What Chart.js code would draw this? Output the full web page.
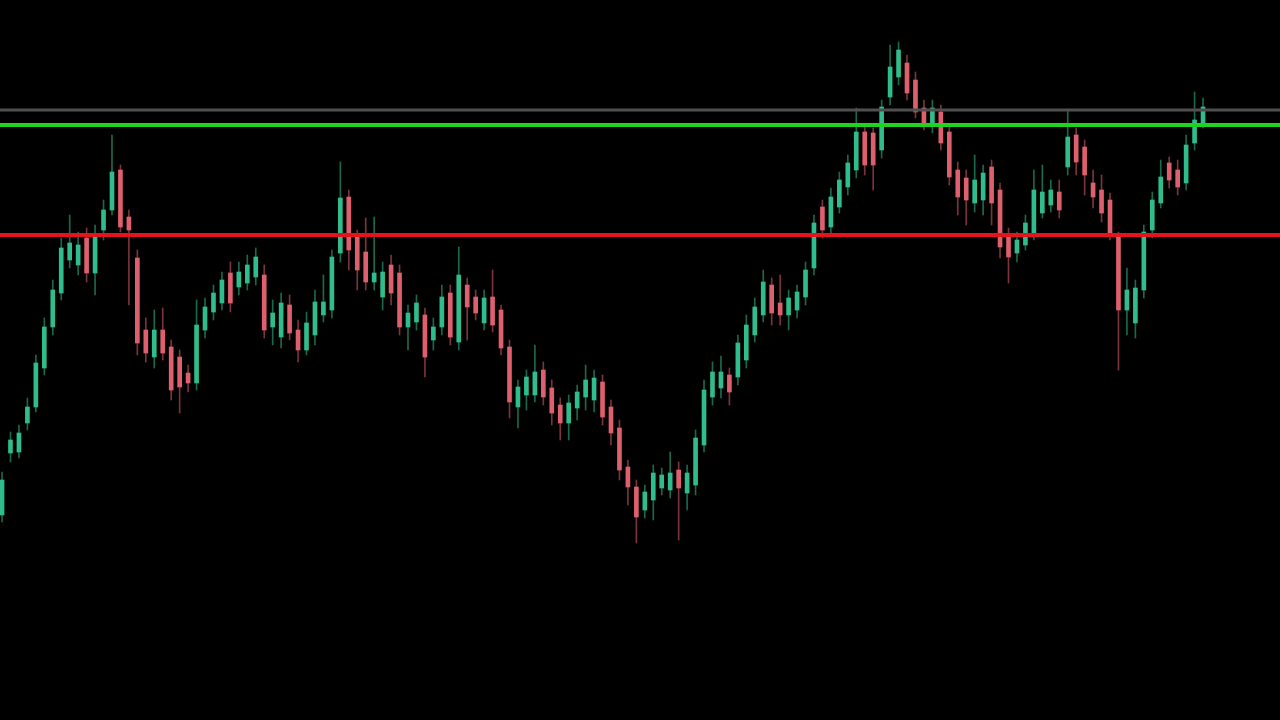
<!DOCTYPE html>
<html>
<head>
<meta charset="utf-8">
<script src="https://cdn.jsdelivr.net/npm/chart.js@4.4.1/dist/chart.umd.min.js"></script>
<style>
  html, body { margin: 0; padding: 0; background: #000; }
  #wrap { width: 1280px; height: 720px; }
</style>
</head>
<body>
<div id="wrap"><canvas id="candles" width="1280" height="720"></canvas></div>
<script>
// OHLC values, one entry per candle
const opens = [205,267,268,297,313,352,393,427,460,455,482,447,490,510,550,503,462,390,363,390,
  373,363,347,337,390,408,417,447,433,437,443,445,393,383,415,390,370,385,405,410,
  467,523,483,468,438,423,455,447,393,398,405,380,393,427,378,435,423,397,423,410,
  373,313,325,325,350,332,315,297,312,323,320,338,313,292,253,233,210,220,232,230,
  250,227,235,275,323,332,345,343,360,385,405,435,417,405,410,423,452,513,493,513,
  533,550,588,587,570,623,643,657,640,612,595,608,588,550,542,517,520,553,530,483,
  467,475,487,507,515,528,553,585,573,537,530,520,483,410,397,430,490,517,557,550,
  537,577,597];
const highs = [248,288,295,322,365,402,440,482,505,488,492,495,520,585,555,510,470,402,410,412,
  380,370,355,420,422,435,448,458,458,465,472,455,420,427,425,400,408,430,445,470,
  558,530,490,502,503,458,465,455,415,425,412,402,435,435,473,442,430,430,450,415,
  380,340,350,375,358,340,322,325,335,355,350,345,320,300,260,240,235,255,252,268,
  258,255,290,340,358,364,352,385,405,422,450,442,445,430,435,458,505,520,532,548,
  565,612,595,592,620,675,678,665,648,620,620,615,595,558,550,565,555,560,537,492,
  488,505,550,555,540,540,610,592,580,550,545,527,488,452,440,495,528,560,563,560,
  585,628,622];
const lows = [198,258,262,290,308,345,385,420,452,445,438,425,480,505,488,415,365,358,352,360,
  320,307,328,330,382,400,410,408,425,430,435,382,375,372,380,358,365,375,398,402,
  458,450,430,430,430,410,415,385,370,390,343,370,385,375,370,380,400,390,388,365,
  302,292,310,318,315,295,280,280,300,310,308,295,275,240,215,177,202,200,225,222,
  180,210,225,268,315,322,315,335,352,378,398,395,395,390,402,415,445,482,485,507,
  525,542,545,530,562,615,635,620,602,590,587,570,535,505,495,508,505,495,462,437,
  458,470,480,502,508,502,545,545,525,512,498,480,350,385,382,422,482,512,532,525,
  530,570,592];
const closes = [240,280,287,313,357,393,430,472,477,475,447,483,510,548,493,490,377,367,390,367,
  330,333,337,395,413,427,440,417,448,455,463,390,407,417,387,370,397,418,418,463,
  522,470,450,438,447,448,427,393,407,417,363,393,423,383,445,413,407,422,395,372,
  318,333,343,348,323,307,297,317,328,340,342,303,287,250,233,203,228,247,245,247,
  232,247,282,330,348,348,328,377,395,413,438,407,405,422,428,450,497,490,523,540,
  557,588,555,555,613,653,670,627,608,597,612,577,543,523,520,540,547,517,473,463,
  480,497,530,528,530,510,583,558,545,523,507,487,410,430,432,488,520,543,540,533,
  575,600,613];

// horizontal levels drawn across the chart
const levelPrices = [610, 595, 485];
const levelColors = ["#505050", "#1ed41e", "#e3141c"];
const levelWidths = [3, 4, 4];

const upColor = "#2fbd8d";
const downColor = "#de5f6d";
const upWick = "rgba(47, 189, 141, 0.55)";
const downWick = "rgba(222, 95, 109, 0.55)";

const bodyData = opens.map((o, i) => ({ x: i, y: [o, closes[i]] }));
const wickData = highs.map((h, i) => ({ x: i, y: [lows[i], h] }));
const bodyColors = opens.map((o, i) => (closes[i] >= o ? upColor : downColor));
const wickColors = opens.map((o, i) => (closes[i] >= o ? upWick : downWick));

const levelLines = {
  id: "levelLines",
  afterDatasetsDraw(chart) {
    const ctx = chart.ctx;
    const area = chart.chartArea;
    const y = chart.scales.y;
    ctx.save();
    levelPrices.forEach((p, i) => {
      const py = y.getPixelForValue(p);
      ctx.strokeStyle = levelColors[i];
      ctx.lineWidth = levelWidths[i];
      ctx.beginPath();
      ctx.moveTo(area.left, py);
      ctx.lineTo(area.right, py);
      ctx.stroke();
    });
    ctx.restore();
  },
};

const ctx = document.getElementById("candles").getContext("2d");
new Chart(ctx, {
  type: "bar",
  data: {
    datasets: [
      {
        label: "Wick",
        data: wickData,
        backgroundColor: wickColors,
        barThickness: 1,
        grouped: false,
        order: 2,
      },
      {
        label: "Body",
        data: bodyData,
        backgroundColor: bodyColors,
        barThickness: 4,
        minBarLength: 2,
        grouped: false,
        order: 1,
      },
    ],
  },
  options: {
    responsive: false,
    animation: false,
    layout: { padding: 0 },
    scales: {
      x: {
        type: "linear",
        min: -0.24,
        max: 151.1,
        offset: false,
        display: false,
        grid: { offset: false },
      },
      y: { min: 0, max: 720, display: false },
    },
    plugins: {
      legend: { display: false },
      tooltip: { enabled: false },
    },
  },
  plugins: [levelLines],
});
</script>
</body>
</html>
